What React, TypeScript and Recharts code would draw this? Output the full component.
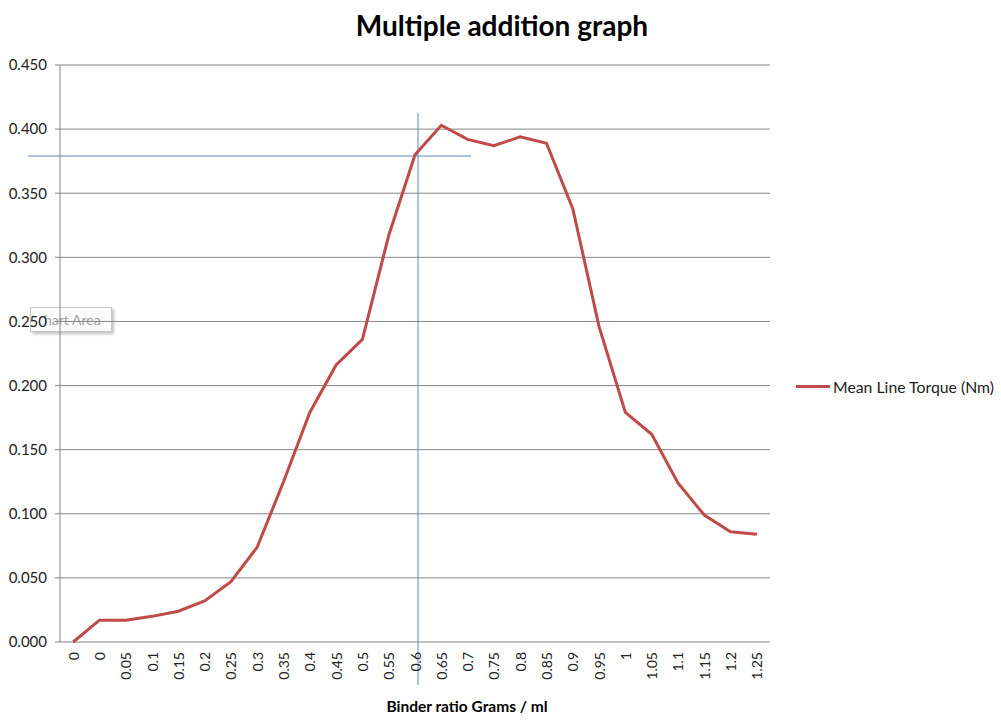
import { LineChart, Line, XAxis, YAxis, CartesianGrid, Legend, ReferenceLine } from "recharts"

const categories = [
  "0", "0", "0.05", "0.1", "0.15", "0.2", "0.25", "0.3", "0.35", "0.4", "0.45", "0.5", "0.55", "0.6",
  "0.65", "0.7", "0.75", "0.8", "0.85", "0.9", "0.95", "1", "1.05", "1.1", "1.15", "1.2", "1.25",
]

const meanTorque = [
  0.0, 0.017, 0.017, 0.02, 0.024, 0.032, 0.047, 0.074, 0.125, 0.179, 0.216, 0.236, 0.317, 0.38,
  0.403, 0.392, 0.387, 0.394, 0.389, 0.338, 0.246, 0.179, 0.162, 0.124, 0.099, 0.086, 0.084,
]

const yTicks = [0, 0.05, 0.1, 0.15, 0.2, 0.25, 0.3, 0.35, 0.4, 0.45]

// hand drawn guide lines on the original sheet (index units on x)
const guideY = 0.379
const guideX = 13.114

const LINE_COLOR = "#be4b48"
const GRID_COLOR = "#868686"
const GUIDE_COLOR = "#5b86c0"
const FONT = "Lato, 'Open Sans', sans-serif"

const data = categories.map((label, i) => ({ idx: i, label, torque: meanTorque[i] }))
const catTicks = categories.map((_, i) => i)
const edgeTicks = [...catTicks.map((i) => i - 0.5), categories.length - 0.5]
const xDomain = [-0.5, categories.length - 0.5]

function CategoryTick({ x, y, payload }: any) {
  return (
    <text
      transform={`translate(${x},${y + 10}) rotate(-90)`}
      textAnchor="end"
      dominantBaseline="central"
      fontSize={14}
      fontFamily={FONT}
      fill="#222"
    >
      {categories[payload.value]}
    </text>
  )
}

function LegendContent({ payload }: any) {
  return (
    <div>
      {(payload || []).map((p: any) => (
        <div key={p.value} style={{ display: "flex", alignItems: "center", fontFamily: FONT, fontSize: 15.8, color: "#222" }}>
          <span style={{ display: "inline-block", width: 34, height: 3, background: p.color, marginRight: 3 }} />
          {p.value}
        </div>
      ))}
    </div>
  )
}

export default function App() {
  return (
    <div style={{ position: "absolute", left: 0, top: 0, width: 1001, height: 720, background: "#fff" }}>
      <div
        style={{
          position: "absolute",
          left: 0,
          top: 8,
          width: 1004,
          textAlign: "center",
          fontFamily: FONT,
          fontWeight: 700,
          fontSize: 28,
          lineHeight: "34px",
          color: "#000",
        }}
      >
        Multiple addition graph
      </div>
      <div
        style={{
          position: "absolute",
          left: 30,
          top: 307,
          width: 82,
          height: 25,
          border: "1px solid #c8c8c8",
          background: "#fbfbfb",
          boxShadow: "2px 2px 3px rgba(0,0,0,0.25)",
          boxSizing: "border-box",
          fontFamily: FONT,
          fontSize: 14,
          lineHeight: "23px",
          color: "#a0a0a0",
          paddingLeft: 13,
        }}
      >
        hart Area
      </div>
      <div style={{ position: "absolute", left: 0, top: 0 }}>
        <LineChart width={1001} height={720} data={data} margin={{ top: 65, right: 231, bottom: 0, left: 0 }}>
          <CartesianGrid vertical={false} stroke={GRID_COLOR} strokeWidth={1} />
          <XAxis
            xAxisId="edges"
            type="number"
            dataKey="idx"
            domain={xDomain}
            ticks={edgeTicks}
            interval={0}
            height={0}
            tickSize={5}
            tickFormatter={() => ""}
            stroke={GRID_COLOR}
            axisLine={{ stroke: GRID_COLOR }}
            tickLine={{ stroke: GRID_COLOR }}
          />
          <XAxis
            type="number"
            dataKey="idx"
            domain={xDomain}
            ticks={catTicks}
            interval={0}
            height={78}
            tickSize={0}
            tickMargin={0}
            axisLine={false}
            tickLine={false}
            tick={<CategoryTick />}
            label={{
              value: "Binder ratio Grams / ml",
              position: "insideBottom",
              offset: 8,
              dx: 52,
              style: { fontFamily: FONT, fontSize: 15.5, fontWeight: 700, fill: "#000" },
            }}
          />
          <YAxis
            domain={[0, 0.45]}
            ticks={yTicks}
            interval={0}
            width={60}
            tickSize={5}
            tickMargin={8}
            tickFormatter={(v: number) => v.toFixed(3)}
            axisLine={{ stroke: GRID_COLOR }}
            tickLine={{ stroke: GRID_COLOR }}
            tick={{ fill: "#222", fontSize: 15, fontFamily: FONT }}
          />
          <ReferenceLine
            segment={[
              { x: -1.72, y: guideY },
              { x: 15.13, y: guideY },
            ]}
            stroke={GUIDE_COLOR}
            strokeWidth={1}
            ifOverflow="visible"
          />
          <ReferenceLine
            segment={[
              { x: guideX, y: 0.4126 },
              { x: guideX, y: -0.0335 },
            ]}
            stroke={GUIDE_COLOR}
            strokeWidth={1}
            ifOverflow="visible"
          />
          <Line
            type="linear"
            dataKey="torque"
            name="Mean Line Torque (Nm)"
            stroke={LINE_COLOR}
            strokeWidth={3}
            dot={false}
            activeDot={false}
            isAnimationActive={false}
          />
          <Legend
            layout="vertical"
            align="center"
            verticalAlign="middle"
            wrapperStyle={{ left: 796, top: 377, width: 205 }}
            content={<LegendContent />}
          />
        </LineChart>
      </div>
    </div>
  )
}
